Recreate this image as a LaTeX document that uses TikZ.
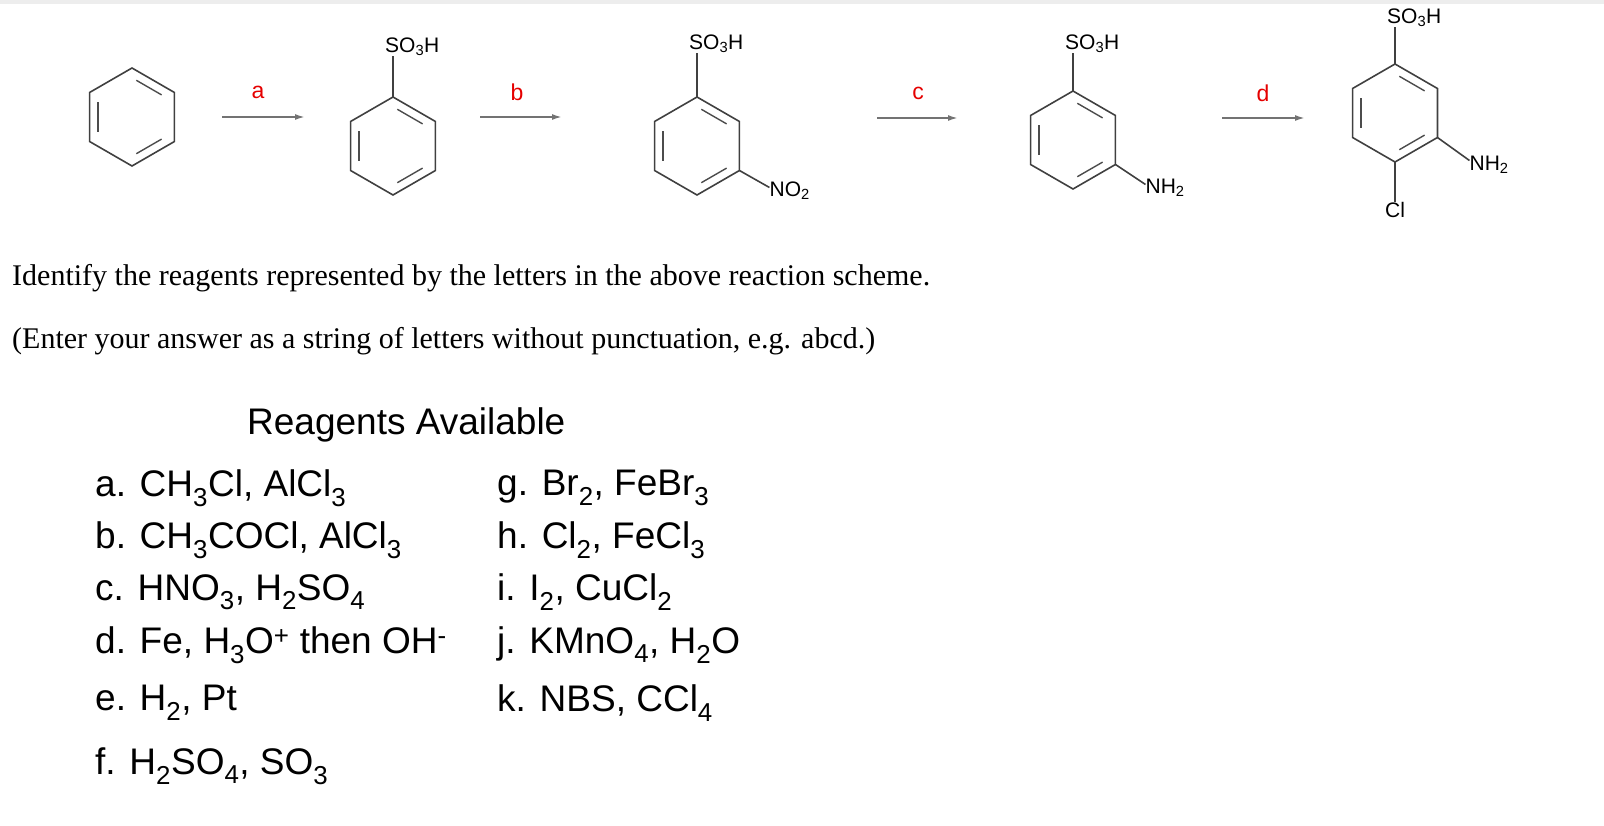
\documentclass[tikz,border=0pt]{standalone}
\usepackage{fontspec}
\setmainfont{Liberation Sans}
\newfontfamily\qfont{Liberation Serif}
\usetikzlibrary{calc,arrows.meta}
\newcommand{\sbs}[1]{\textsubscript{#1}}
\newcommand{\sps}[1]{\textsuperscript{#1}}
\tikzset{bond/.style={line width=1.6pt,draw=black!75},
 inner/.style={line width=1.4pt,draw=black!70,shorten >=5pt,shorten <=5pt},
 rarrow/.style={line width=1.8pt,draw=black!55,-{Latex[length=10pt,width=6pt,fill=black]}},
 lab/.style={font=\fontsize{21}{21}\selectfont,inner sep=0pt},
 rlet/.style={font=\fontsize{23}{23}\selectfont,text=red!90!black},
 reag/.style={font=\fontsize{37}{37}\selectfont,anchor=west,inner sep=0pt},
 qtext/.style={font=\qfont\fontsize{30}{30}\selectfont,anchor=west,inner sep=0pt}}
\newcommand{\benz}[3]{%
 \coordinate (#1) at (#2,#3);
 \foreach \i/\a in {0/-90,1/-30,2/30,3/90,4/150,5/210}{\coordinate (#1\i) at ($(#1)+(\a:49)$);}
 \draw[bond] (#10)--(#11)--(#12)--(#13)--(#14)--(#15)--cycle;
 \draw[inner] ($(#1)!.8!(#10)$)--($(#1)!.8!(#11)$);
 \draw[inner] ($(#1)!.8!(#12)$)--($(#1)!.8!(#13)$);
 \draw[inner] ($(#1)!.8!(#14)$)--($(#1)!.8!(#15)$);}
\begin{document}
\begin{tikzpicture}[x=1pt,y=-1pt]
\useasboundingbox (0,0) rectangle (1604,826);
\fill[black!7] (0,0) rectangle (1604,4);
\benz{A}{132}{117}
\benz{B}{393}{146}
\benz{C}{697}{146}
\benz{D}{1073}{140}
\benz{E}{1395}{113}
% SO3H
\foreach \r/\y in {B/47,C/44,D/44,E/18}{
 \coordinate (t\r) at ($(\r0)+(-8,0)$);
 \coordinate (y\r) at (0,\y);
 \node[lab,anchor=west] (s\r) at (t\r |- y\r) {SO\sbs{3}H};
 \draw[bond] (\r0) -- (\r0 |- s\r.south);}
% NO2 / NH2
\node[lab,anchor=west] (nC) at ($(C2)+(30,20)$) {NO\sbs{2}};
\draw[bond] (C2) -- ($(C2)+(30,17)$);
\node[lab,anchor=west] (nD) at ($(D2)+(30,23)$) {NH\sbs{2}};
\draw[bond] (D2) -- ($(D2)+(30,20)$);
\node[lab,anchor=west] (nE) at ($(E2)+(32,27)$) {NH\sbs{2}};
\draw[bond] (E2) -- ($(E2)+(32,23)$);
\node[lab,anchor=north] (cl) at ($(E3)+(0,40)$) {Cl};
\draw[bond] (E3) -- (cl.north);
% arrows
\foreach \n/\xa/\xb/\y/\l in {a/222/305/117/258,b/480/562/117/517,c/877/958/118/918,d/1222/1305/118/1263}{
 \coordinate (\n1) at (\xa,\y); \coordinate (\n2) at (\xb,\y);
 \draw[rarrow] (\n1) -- (\n2);
 \node[rlet] (l\n) at (\l,\y-25) {\n};}
% question
\node[qtext] (q1) at (12,278) {Identify the reagents represented by the letters in the above reaction scheme.};
\node[qtext] (q2) at (12,341) {(Enter your answer as a string of letters without punctuation, e.g. abcd.)};
\node[reag] (h) at (247,425) {Reagents Available};
\node[reag] (ra) at (95,488) {a. CH\sbs{3}Cl, AlCl\sbs{3}};
\node[reag] (rb) at (95,540) {b. CH\sbs{3}COCl, AlCl\sbs{3}};
\node[reag] (rc) at (95,592) {c. HNO\sbs{3}, H\sbs{2}SO\sbs{4}};
\node[reag] (rd) at (95,645) {d. Fe, H\sbs{3}O\sps{+} then OH\sps{-}};
\node[reag] (re) at (95,703) {e. H\sbs{2}, Pt};
\node[reag] (rf) at (95,766) {f. H\sbs{2}SO\sbs{4}, SO\sbs{3}};
\node[reag] (rg) at (497,488) {g. Br\sbs{2}, FeBr\sbs{3}};
\node[reag] (rh) at (497,540) {h. Cl\sbs{2}, FeCl\sbs{3}};
\node[reag] (ri) at (497,592) {i. I\sbs{2}, CuCl\sbs{2}};
\node[reag] (rj) at (497,645) {j. KMnO\sbs{4}, H\sbs{2}O};
\node[reag] (rk) at (497,703) {k. NBS, CCl\sbs{4}};
\end{tikzpicture}
\end{document}
